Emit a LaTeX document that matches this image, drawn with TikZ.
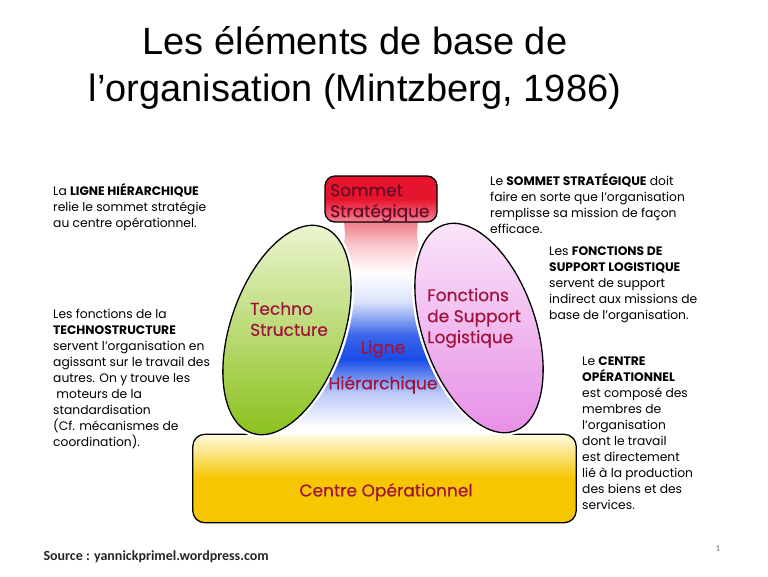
\documentclass[tikz,border=0pt]{standalone}
\usepackage{fontspec}
\setmainfont{Poppins}
\newfontfamily\titlefont{Liberation Sans}
\newfontfamily\srcfont{Carlito}
\newfontfamily\lblfont[FakeBold=0.5]{Poppins}
\usetikzlibrary{shapes.geometric}

\definecolor{lblred}{RGB}{160,20,60}
\definecolor{fblue}{RGB}{25,75,230}
\definecolor{sred}{RGB}{230,20,45}
\definecolor{spink}{RGB}{246,130,150}
\definecolor{tgreen}{RGB}{140,194,30}
\definecolor{tlight}{RGB}{238,246,215}
\definecolor{ppink}{RGB}{230,140,230}
\definecolor{plight}{RGB}{251,232,250}
\definecolor{cyel}{RGB}{246,198,0}
\definecolor{clight}{RGB}{255,250,225}

\pgfdeclareverticalshading{funnelshade}{100bp}{color(0bp)=(white); color(29bp)=(white);
  color(36bp)=(fblue!30); color(43bp)=(fblue); color(48bp)=(fblue!85);
  color(55bp)=(fblue!15); color(61bp)=(white); color(67bp)=(sred!25);
  color(75bp)=(sred!80); color(100bp)=(sred!80)}

\begin{document}
\begin{tikzpicture}[x=1pt,y=-1pt,
note/.style={
anchor=north west,
align=left,
inner sep=0pt,
font=\fontsize{12.3}{16}\selectfont
},
lbl/.style={
text=lblred,
inner sep=0pt,
font=\lblfont\fontsize{17}{21}\selectfont
},
lobe/.style={
ellipse,
draw,
line width=1.3pt,
inner sep=0pt,
minimum width=113,
minimum height=218,
preaction={draw=white,line width=6pt}
},
]
\useasboundingbox (0,0) rectangle (768,576);

% title
\node (title) [align=center,font=\titlefont\fontsize{38}{47}\selectfont] at (355,68)
  {Les éléments de base de\\l’organisation (Mintzberg, 1986)};

% diagram
\shade[shading=funnelshade] (343,205) -- (345,235) .. controls (335,330) and (300,400) .. (280,446)
  -- (482,446) .. controls (462,400) and (427,330) .. (417,235) -- (419,205) -- cycle;
\node (sommet) [draw,line width=1.3pt,rounded corners=10pt,minimum width=112,minimum height=46,
  top color=sred,bottom color=spink,middle color=sred] at (381,199) {};
\node (centre) [rounded corners=12pt,minimum width=383,minimum height=88,
  top color=clight,bottom color=cyel,middle color=cyel] at (384.5,478.5) {};
\draw[line width=1.3pt,rounded corners=12pt] ([xshift=66]centre.north west) -- (centre.north west)
  -- (centre.south west) -- (centre.south east) -- (centre.north east) -- ([xshift=-66]centre.north east);
\node (techno) [lobe,rotate=-19,top color=tlight,bottom color=tgreen] at (287,330) {};
\node (support) [lobe,rotate=19,top color=plight,bottom color=ppink] at (479,328) {};

\node (sommetlbl) [lbl,text=lblred!65!black,anchor=north west,align=left] at (330,184) {Sommet\\Stratégique};
\node (technolbl) [lbl,anchor=north west,align=left] at (250,302) {Techno\\Structure};
\node (supportlbl) [lbl,anchor=north west,align=left] at (427,288) {Fonctions\\de Support\\Logistique};
\node (lignelbl) [lbl,align=center,font=\lblfont\fontsize{17}{36}\selectfont] at (383,367) {Ligne\\Hiérarchique};
\node (centrelbl) [lbl] at (386,492) {Centre Opérationnel};

% notes
\node (hiernote) [note] at (53,183) {La \textbf{LIGNE HIÉRARCHIQUE}\\relie le sommet stratégie\\au centre opérationnel.};
\node (technote) [note] at (53,309) {Les fonctions de la\\\textbf{TECHNOSTRUCTURE}\\servent l’organisation en\\agissant sur le travail des\\autres. On y trouve les\\\ moteurs de la\\standardisation\\(Cf. mécanismes de\\coordination).};
\node (sommetnote) [note] at (490,173) {Le \textbf{SOMMET STRATÉGIQUE} doit\\faire en sorte que l’organisation\\remplisse sa mission de façon\\efficace.};
\node (supportnote) [note] at (549,247) {Les \textbf{FONCTIONS DE}\\\textbf{SUPPORT LOGISTIQUE}\\servent de support\\indirect aux missions de\\base de l’organisation.};
\node (centrenote) [note] at (582,357) {Le \textbf{CENTRE}\\\textbf{OPÉRATIONNEL}\\est composé des\\membres de\\l’organisation\\dont le travail\\est directement\\lié à la production\\des biens et des\\services.};

\node (source) [anchor=west,font=\srcfont\bfseries\fontsize{14}{16}\selectfont,text=black!85] at (40,557) {Source : yannickprimel.wordpress.com};
\node (page) [font=\srcfont\fontsize{9}{10}\selectfont,text=black!55] at (718,549) {1};
\end{tikzpicture}
\end{document}
